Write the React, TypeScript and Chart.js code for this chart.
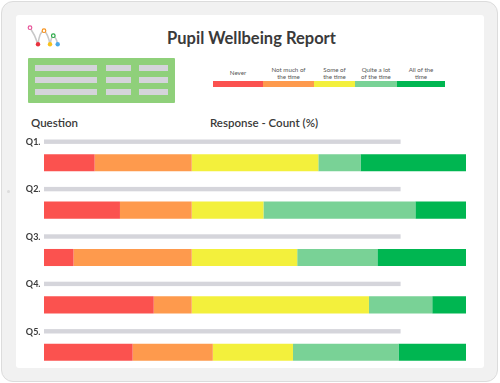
import React, { useEffect, useRef } from 'react';
import { Chart, registerables } from 'chart.js';

Chart.register(...registerables);

const TITLE = 'Pupil Wellbeing Report';
const QUESTIONS = ['Q1.', 'Q2.', 'Q3.', 'Q4.', 'Q5.'];
const RESPONSES = ['Never', 'Not much of the time', 'Some of the time', 'Quite a lot of the time', 'All of the time'];
const LEGEND_LINES = [['Never'], ['Not much of', 'the time'], ['Some of', 'the time'], ['Quite a lot', 'of the time'], ['All of the', 'time']];

// Response counts (%) per question, one array per response option
const NEVER = [12, 18, 7, 26, 21];
const NOT_MUCH = [23, 17, 28, 9, 19];
const SOME = [30, 17, 25, 42, 19];
const QUITE_A_LOT = [10, 36, 19, 15, 25];
const ALL_OF_TIME = [25, 12, 21, 8, 16];

const SERIES = [NEVER, NOT_MUCH, SOME, QUITE_A_LOT, ALL_OF_TIME];
const COLORS = ['#fb524f', '#fe9a4d', '#f3f03c', '#79d296', '#00b651'];
const LEGEND_WIDTHS = [50, 51, 41, 42, 48];

const FONT = 'Lato, "Open Sans", sans-serif';

const questionPlugin = {
  id: 'questionRows',
  afterDatasetsDraw(chart: any) {
    const { ctx, chartArea, scales } = chart;
    const y = scales.y;
    ctx.save();
    QUESTIONS.forEach((q, i) => {
      const cy = y.getPixelForValue(i) - 21;
      ctx.fillStyle = '#d5d5db';
      ctx.fillRect(chartArea.left, cy - 2.2, chartArea.width * 0.845, 4.4);
      ctx.fillStyle = '#3a3a3a';
      ctx.font = `bold 9px ${FONT}`;
      ctx.textAlign = 'right';
      ctx.textBaseline = 'alphabetic';
      ctx.fillText(q, chartArea.left - 3.5, cy + 3.3);
    });
    ctx.restore();
  },
};

function Logo() {
  return (
    <svg width={40} height={35} viewBox="20 15 40 35" style={{ position: 'absolute', left: 20, top: 15 }}>
      <path
        d="M30 27.7 C33 32 36 38 38 44.3 C39 36 41 31 44 30.7 C47 33 49 39 50 44.3 C51 39 52 36 53.3 35.7 C55 37 57 41 57.7 44.3"
        fill="none"
        stroke="#c8c8c8"
        strokeWidth={1.6}
      />
      <circle cx={30} cy={27.7} r={1.8} fill="#fff" stroke="#e8559a" strokeWidth={1.2} />
      <circle cx={44} cy={30.7} r={1.8} fill="#fff" stroke="#f7931e" strokeWidth={1.2} />
      <circle cx={53.3} cy={35.7} r={1.8} fill="#fff" stroke="#27a844" strokeWidth={1.2} />
      <circle cx={38} cy={44.3} r={2.2} fill="#e9323e" />
      <circle cx={50} cy={44.3} r={2.2} fill="#f9c21b" />
      <circle cx={57.7} cy={44.3} r={2.2} fill="#4aa8e8" />
    </svg>
  );
}

function GreenBox() {
  const rows = [65, 77, 89];
  const cols = [
    [35, 62],
    [106, 25],
    [139, 29],
  ];
  return (
    <div style={{ position: 'absolute', left: 28, top: 58, width: 147, height: 45, background: '#8fd07a', borderRadius: 1 }}>
      {rows.map((r) =>
        cols.map(([x, w]) => (
          <div
            key={`${r}-${x}`}
            style={{ position: 'absolute', left: x - 28, top: r - 58, width: w, height: 6, background: '#d4d4da' }}
          />
        ))
      )}
    </div>
  );
}

function Legend() {
  let x = 213;
  return (
    <>
      {LEGEND_LINES.map((lines, i) => {
        const left = x;
        const w = LEGEND_WIDTHS[i];
        x += w;
        return (
          <React.Fragment key={RESPONSES[i]}>
            <div
              style={{
                position: 'absolute',
                left,
                width: w,
                top: lines.length === 1 ? 68.5 : 65.5,
                textAlign: 'center',
                fontFamily: FONT,
                fontSize: 6.2,
                lineHeight: '7.6px',
                color: '#555',
                whiteSpace: 'nowrap',
              }}
            >
              {lines.map((l) => (
                <div key={l}>{l}</div>
              ))}
            </div>
            <div style={{ position: 'absolute', left, top: 81, width: w, height: 5.5, background: COLORS[i] }} />
          </React.Fragment>
        );
      })}
    </>
  );
}

export default function App() {
  const canvasRef = useRef<HTMLCanvasElement | null>(null);

  useEffect(() => {
    document.body.style.margin = '0';
    const canvas = canvasRef.current;
    if (!canvas) return;
    const chart = new Chart(canvas, {
      type: 'bar',
      data: {
        labels: QUESTIONS,
        datasets: SERIES.map((data, i) => ({
          label: RESPONSES[i],
          data,
          backgroundColor: COLORS[i],
          borderWidth: 0,
          categoryPercentage: 1,
          barPercentage: 0.36,
        })),
      },
      options: {
        indexAxis: 'y',
        responsive: false,
        animation: false,
        layout: { padding: { left: 44, right: 34, top: 139, bottom: 7 } },
        plugins: { legend: { display: false }, tooltip: { enabled: false } },
        scales: {
          x: { stacked: true, min: 0, max: 100, display: false },
          y: { stacked: true, display: false },
        },
      },
      plugins: [questionPlugin],
    });
    return () => chart.destroy();
  }, []);

  return (
    <div style={{ position: 'fixed', left: 0, top: 0, width: 500, height: 383, overflow: 'hidden', background: '#fff' }}>
      <div
        style={{
          position: 'absolute',
          left: 1,
          top: 1,
          width: 495,
          height: 379,
          background: '#f1f1f1',
          border: '1px solid #dcdcdc',
          borderRadius: 12,
        }}
      />
      <div style={{ position: 'absolute', left: 6.5, top: 189.5, width: 3.5, height: 3.5, borderRadius: 2, background: '#dcdcdc' }} />
      <div style={{ position: 'absolute', left: 16, top: 15, width: 468, height: 353, background: '#fff', borderRadius: 3 }} />
      <Logo />
      <div
        style={{
          position: 'absolute',
          left: 0,
          width: 503,
          top: 30,
          textAlign: 'center',
          fontFamily: FONT,
          fontWeight: 700,
          fontSize: 16.5,
          lineHeight: '16.5px',
          color: '#3a3a3a',
        }}
      >
        {TITLE}
      </div>
      <GreenBox />
      <Legend />
      <div style={{ position: 'absolute', left: 31, top: 116.5, fontFamily: FONT, fontSize: 11.5, lineHeight: '11.5px', color: '#3a3a3a', fontWeight: 600 }}>
        Question
      </div>
      <div
        style={{
          position: 'absolute',
          left: 164,
          width: 200,
          top: 116.5,
          textAlign: 'center',
          fontFamily: FONT,
          fontSize: 11.5,
          lineHeight: '11.5px',
          color: '#3a3a3a',
          fontWeight: 600,
        }}
      >
        Response - Count (%)
      </div>
      <canvas ref={canvasRef} width={500} height={383} style={{ position: 'absolute', left: 0, top: 0 }} />
    </div>
  );
}
